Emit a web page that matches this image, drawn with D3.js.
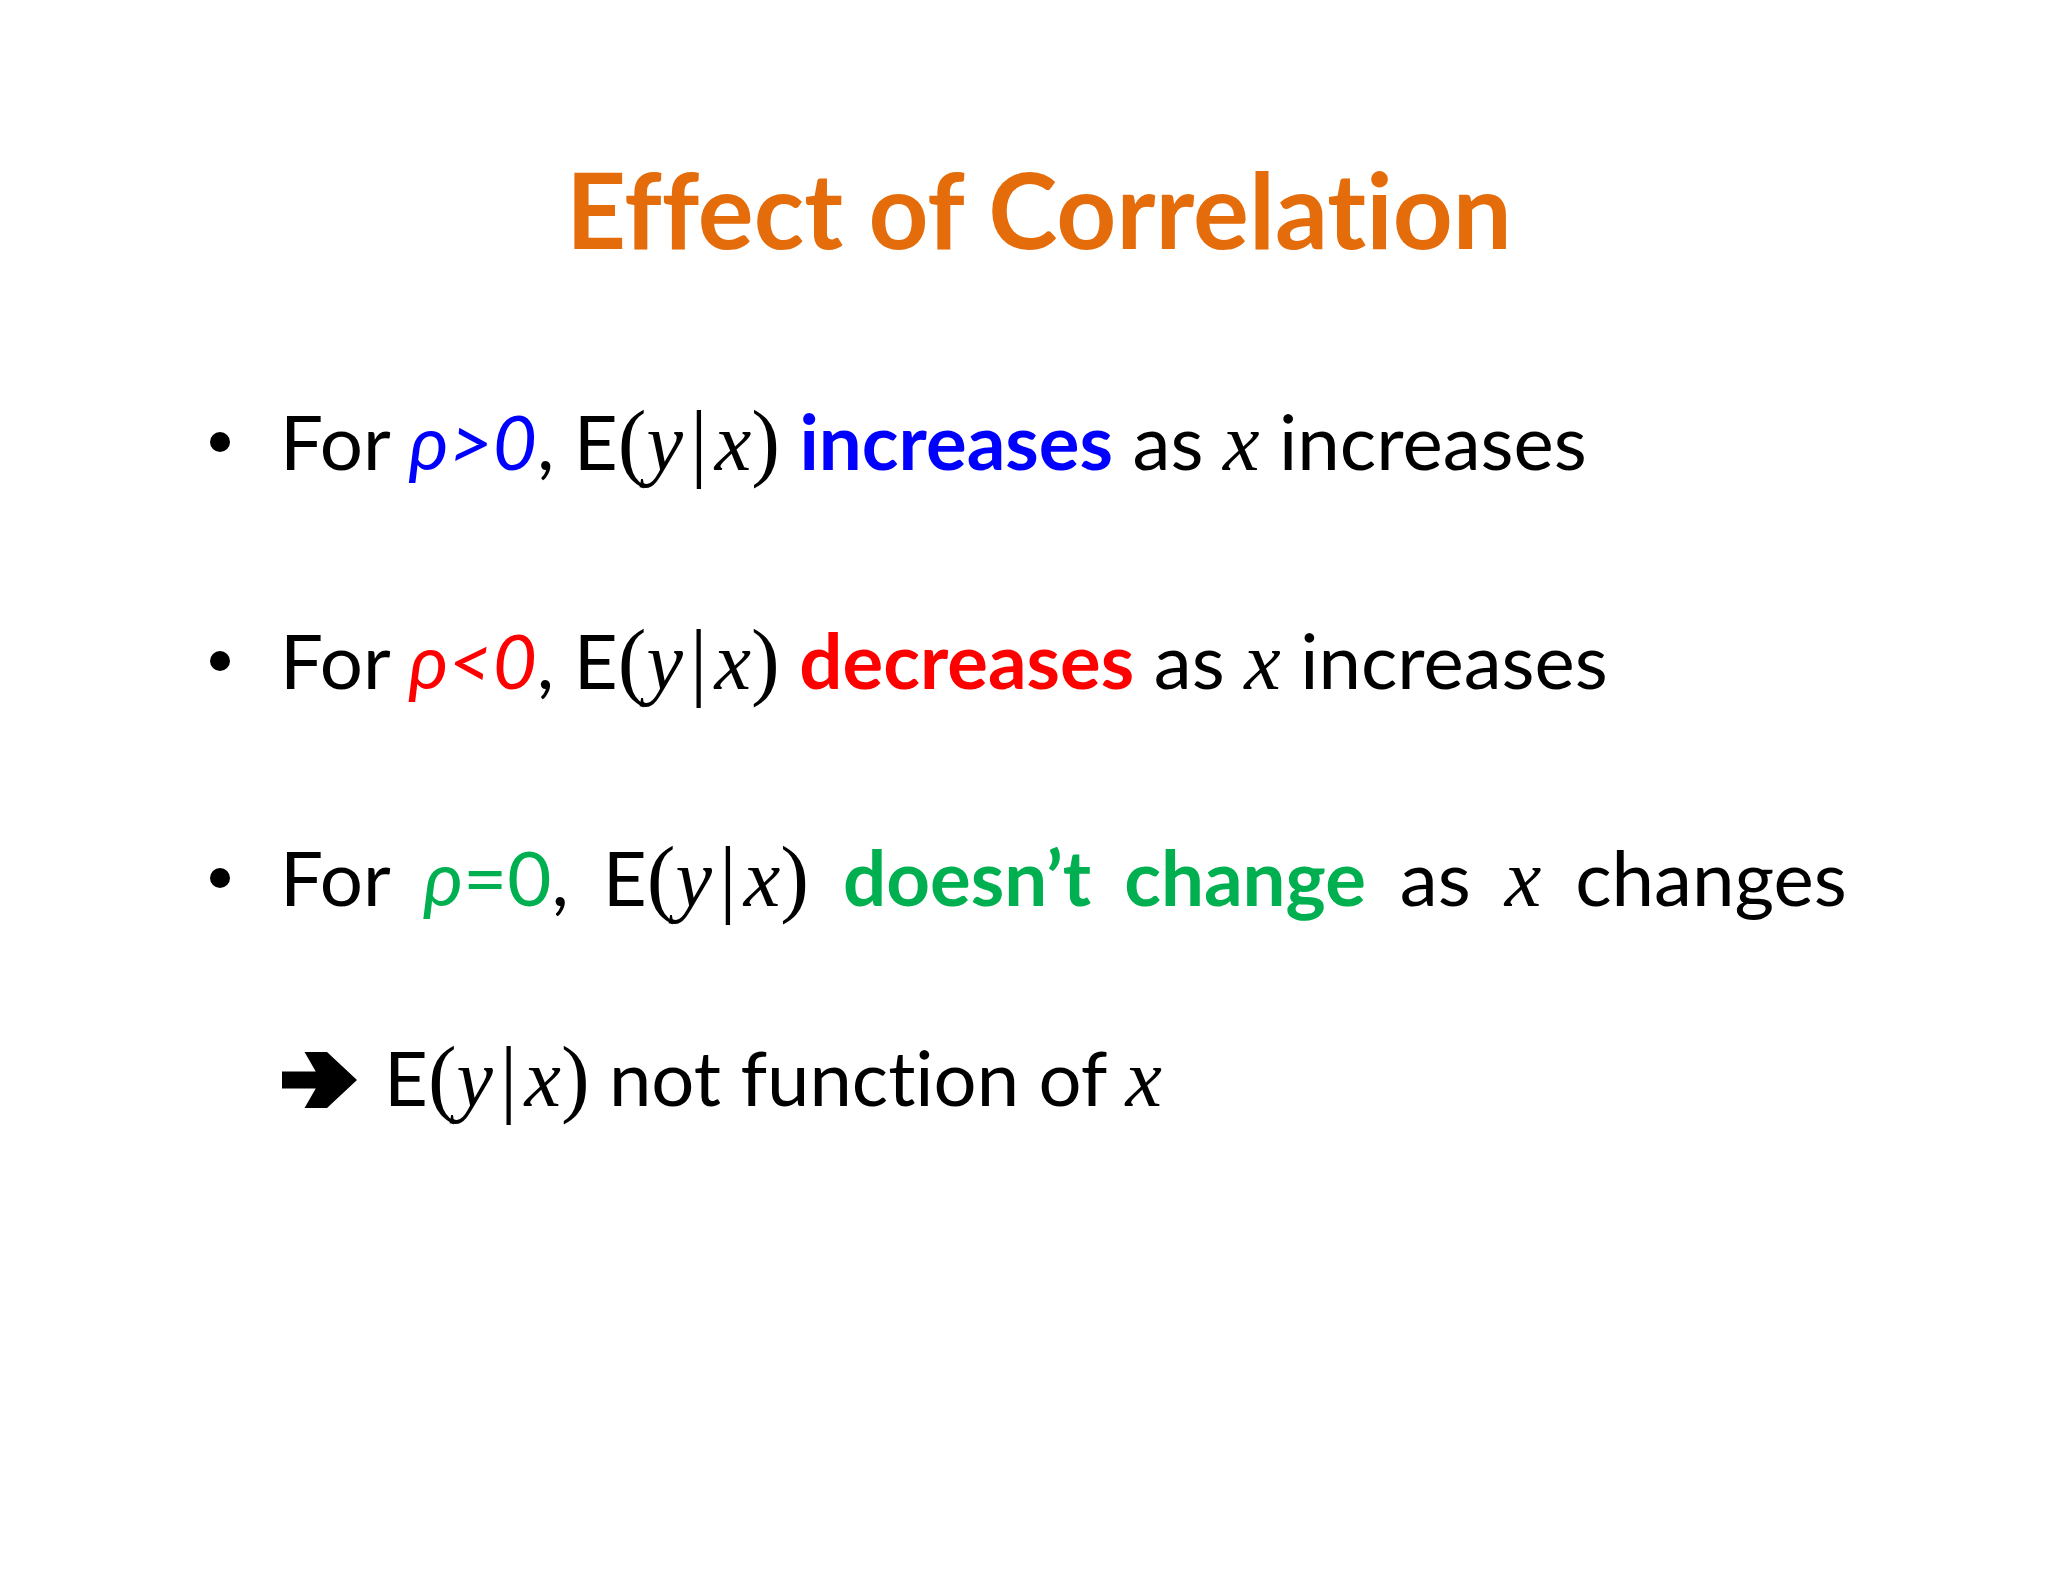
<!DOCTYPE html>
<html>
<head>
<meta charset="utf-8">
<script src="https://cdn.jsdelivr.net/npm/d3@7"></script>
<style>
  body { margin: 0; background: #ffffff; }
  text { white-space: pre; font-variant-ligatures: none; font-feature-settings: "liga" 0, "clig" 0; }
</style>
</head>
<body>
<div id="slide"></div>
<script>
// Slide size
var svgWidth = 2048;
var svgHeight = 1582;

// Slide text, split in runs; the second item names the role of the run
var titleText = "Effect of Correlation";

var line1 = [["For ", "body"], ["ρ>0", "rhoPos"], [", E", "body"], ["(", "paren"], ["y", "math"],
  ["\u200a|\u200a", "paren"], ["x", "math"], [")", "paren"], [" ", "body"], ["increases", "up"],
  [" as ", "body"], ["x", "math"], [" increases", "body"]];

var line2 = [["For ", "body"], ["ρ<0", "rhoNeg"], [", E", "body"], ["(", "paren"], ["y", "math"],
  ["\u200a|\u200a", "paren"], ["x", "math"], [")", "paren"], [" ", "body"], ["decreases", "down"],
  [" as ", "body"], ["x", "math"], [" increases", "body"]];

var line3 = [["For ", "body"], ["ρ", "rhoZeroIt"], ["=0", "rhoZero"], [", E", "body"], ["(", "paren"],
  ["y", "math"], ["\u200a|\u200a", "paren"], ["x", "math"], [")", "paren"], [" ", "body"],
  ["doesn’t change", "flat"], [" as ", "body"], ["x", "math"], [" changes", "body"]];

var line4 = [["E", "body"], ["(", "paren"], ["y", "math"], ["\u200a|\u200a", "paren"], ["x", "math"],
  [")", "paren"], [" not function of ", "body"], ["x", "math"]];

var bulletLines = [line1, line2, line3, line4];
var bulletMarks = ["dot", "dot", "dot", "arrow"];

// Layout (left edge, right edge, baseline) for each line
var layout = [
  { left: 280, right: 1587, base: 470, mark: 220, justify: false },
  { left: 280, right: 1608, base: 689, mark: 220, justify: false },
  { left: 280, right: 1847, base: 906, mark: 220, justify: true },
  { left: 384, right: 1162, base: 1106, mark: 282, justify: false }
];

var sans = "Lato, 'Open Sans', sans-serif";
var serif = "'Liberation Serif', 'DejaVu Serif', serif";

var roleStyle = {
  body:      { fill: "#000000", family: sans, size: 76, weight: 400, style: "normal" },
  rhoPos:    { fill: "#0000ff", family: sans, size: 76, weight: 400, style: "italic" },
  rhoNeg:    { fill: "#ff0000", family: sans, size: 76, weight: 400, style: "italic" },
  rhoZeroIt: { fill: "#00b050", family: sans, size: 76, weight: 400, style: "italic" },
  rhoZero:   { fill: "#00b050", family: sans, size: 76, weight: 400, style: "normal" },
  up:        { fill: "#0000ff", family: sans, size: 76, weight: 700, style: "normal" },
  down:      { fill: "#ff0000", family: sans, size: 76, weight: 700, style: "normal" },
  flat:      { fill: "#00b050", family: sans, size: 76, weight: 700, style: "normal" },
  math:      { fill: "#000000", family: serif, size: 82, weight: 400, style: "italic" },
  paren:     { fill: "#000000", family: serif, size: 86, weight: 400, style: "normal" }
};

var svg = d3.select("#slide")
  .append("svg")
  .attr("width", svgWidth)
  .attr("height", svgHeight);

svg.append("rect")
  .attr("width", svgWidth)
  .attr("height", svgHeight)
  .attr("fill", "#ffffff");

// Title, stretched to the width it has on the slide
var title = svg.append("text")
  .attr("x", 566)
  .attr("y", 249)
  .attr("fill", "#e46c0a")
  .style("font-family", sans)
  .style("font-weight", 700)
  .style("font-size", "106px")
  .text(titleText);
var tw = title.node().getComputedTextLength();
title.attr("transform", `translate(566,0) scale(${946 / tw},1) translate(-566,0)`);

// Heavy arrow, shape in unit box (x 0..1, y -0.5..0.5)
var arrowShape = [[0, -0.15], [0.45, -0.15], [0.3, -0.5], [0.6, -0.5], [1, 0],
  [0.6, 0.5], [0.3, 0.5], [0.45, 0.15], [0, 0.15]];

// Lines
var baseScale = null;
bulletLines.forEach(function(runs, i) {
  var L = layout[i];
  var g = svg.append("g");

  var t = g.append("text")
    .attr("x", L.left)
    .attr("y", L.base);

  t.selectAll("tspan")
    .data(runs)
    .enter()
    .append("tspan")
    .text(d => d[0])
    .attr("fill", d => roleStyle[d[1]].fill)
    .style("font-family", d => roleStyle[d[1]].family)
    .style("font-size", d => roleStyle[d[1]].size + "px")
    .style("font-weight", d => roleStyle[d[1]].weight)
    .style("font-style", d => roleStyle[d[1]].style);

  var w = t.node().getBBox().width;
  var sx;
  if (L.justify && baseScale) {
    // same glyph squeeze as line 1, fill the rest with word spacing
    sx = baseScale;
    var spaces = runs.map(d => d[0]).join("").split(" ").length - 1;
    t.attr("word-spacing", ((L.right - L.left) / sx - w) / spaces);
  } else {
    sx = (L.right - L.left) / w;
    if (baseScale === null) baseScale = sx;
  }
  t.attr("transform", `translate(${L.left},0) scale(${sx},1) translate(${-L.left},0)`);

  if (bulletMarks[i] === "dot") {
    g.append("circle")
      .attr("cx", L.mark)
      .attr("cy", L.base - 28)
      .attr("r", 10)
      .attr("fill", "#000000");
  } else {
    var ax = d3.scaleLinear().domain([0, 1]).range([L.mark, L.mark + 75]);
    var ay = d3.scaleLinear().domain([-0.5, 0.5]).range([L.base - 54, L.base + 2]);
    g.append("path")
      .attr("d", d3.line().x(p => ax(p[0])).y(p => ay(p[1]))(arrowShape) + "Z")
      .attr("fill", "#000000");
  }
});
</script>
</body>
</html>
